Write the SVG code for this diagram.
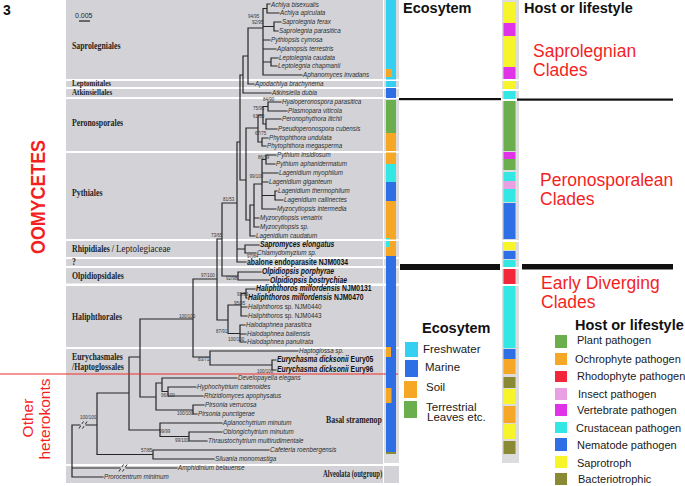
<svg xmlns="http://www.w3.org/2000/svg" width="685" height="486" viewBox="0 0 685 486">
<defs>
<style>
.t{font-family:"Liberation Sans",Arial,sans-serif;font-style:italic;font-size:7.8px;fill:#2b2b2b}
.tb{font-weight:bold;font-size:8.5px;fill:#111}
.up{font-style:normal}
.c{font-family:"Liberation Serif","Times New Roman",serif;font-weight:bold;font-size:9.8px;fill:#1e1e1e}
.cs{font-size:8.8px}
.bs{font-family:"Liberation Sans",Arial,sans-serif;font-size:4.5px;fill:#333}
.br{stroke:#262626;stroke-width:1.2;fill:none;stroke-linecap:square}
.red{font-family:"Liberation Sans",Arial,sans-serif;fill:#f41f1f}
.hd{font-family:"Liberation Sans",Arial,sans-serif;font-weight:bold;font-size:14.5px;fill:#111}
.lg{font-family:"Liberation Sans",Arial,sans-serif;font-size:11.5px;fill:#1a1a1a}
.lh{font-family:"Liberation Sans",Arial,sans-serif;font-size:11px;fill:#1a1a1a}
.sep{fill:#ffffff}
.fw{fill:#35cff2}.ma{fill:#2f6fe6}.so{fill:#f6a725}.te{fill:#6aae4e}
.aq{fill:#33e8e4}.pk{fill:#e8a0e2}.mg{fill:#e032e6}.rd{fill:#f2283a}.ye{fill:#f5f52a}.ol{fill:#8a8a34}
</style>
</defs>
<rect width="685" height="486" fill="#ffffff"/>
<text x="3" y="15" font-family="Liberation Sans,Arial,sans-serif" font-weight="bold" font-size="14" fill="#111">3</text>
<g id="panel">
<rect x="66" y="0" width="317" height="483" fill="#d3d3d7"/>
<rect x="384" y="0" width="15" height="463" fill="#dcdcdf"/>
<rect x="502" y="0" width="17" height="463" fill="#dcdcdf"/>
<g id="separators">
<rect class="sep" x="66" y="79" width="333" height="2"/>
<rect class="sep" x="66" y="87" width="333" height="2"/>
<rect class="sep" x="66" y="97" width="333" height="2"/>
<rect class="sep" x="66" y="151" width="333" height="2"/>
<rect class="sep" x="66" y="239" width="333" height="2"/>
<rect class="sep" x="66" y="257" width="333" height="2"/>
<rect class="sep" x="66" y="266" width="333" height="2"/>
<rect class="sep" x="66" y="283.5" width="333" height="2.5"/>
<rect class="sep" x="66" y="347" width="333" height="2"/>
<rect class="sep" x="66" y="464" width="333" height="2"/>
<rect x="384" y="466" width="15" height="17" fill="#d3d3d7"/>
</g>
</g>
<g id="scalebar">
<text x="75" y="18" font-family="Liberation Sans,Arial,sans-serif" font-size="7" fill="#222">0.005</text>
<line x1="79" y1="21" x2="90" y2="21" stroke="#222" stroke-width="1.2"/>
</g>
<g id="connectors">
<path class="br" d="M267 4V13M267 4H270M267 13H279
M274 22V31M274 22H281M274 31H278
M263 8.5V75M263 8.5H267M263 26.5H274M263 40H270M263 49H276M263 62H271M263 75H302
M271 58V66M271 58H278M271 66H277
M248 28V84M248 28H263M248 84H254
M243 56V93M243 56H248M243 93H271
M240 75V180M240 75H243M240 180H246
M268 102V111M268 102H281M268 111H287
M266 119V129M266 119H281M266 129H277
M263 106.5V124M263 106.5H268M263 124H266
M262 138V146M262 138H268M262 146H266
M258 115V142M258 115H263M258 142H262
M246 128V220M246 128H258M246 220H250
M266 155V164M266 155H276M266 164H275
M275 191V200M275 191H277M275 200H283
M262 159.5V209M262 159.5H266M262 173H278M262 182H268M262 195.5H275M262 209H276
M254 184V227M254 184H262M254 218H259M254 227H259
M250 205V236M250 205H254M250 236H255
M245 245V253M245 245H259M245 253H256
M237 142V262M237 142H240M237 249H245M237 262H246
M238 272V280M238 272H261M238 280H269
M222 203V276M222 203H237M222 276H238
M217 239V320M217 239H222M217 320H228
M246 289V298M246 289H255M246 298H247
M241 293.5V316M241 293.5H246M241 307H247M241 316H247
M240 325V342M240 325H245M240 334H246M240 342H246
M228 305V333.5M228 305H241M228 333.5H240
M193 279V357M193 279H217M193 357H210
M210 351V365M210 351H298M210 365H272
M272 360V370M272 360H276M272 370H276
M140 319V397M140 319H193M140 397H156
M156 383V410M156 383H162M156 410H193
M162 378V391.5M162 378H237M162 391.5H168
M168 387V396M168 387H196M168 396H203
M193 405V414M193 405H204M193 414H197
M189 432V441M189 432H222M189 441H207
M160 423V436.5M160 423H222M160 436.5H189
M129 357V430M129 357H140M129 430H160
M153 450V459M153 450H269M153 459H214
M97 393V454.5M97 393H129M97 454.5H153
M72 425V477M72 425H97M72 468H177M72 477H103"/>
<path d="M79 428.5L83.5 421.5M82.5 428.5L87 421.5M119 471.5L123.5 464.5M122.5 471.5L127 464.5" stroke="#262626" stroke-width="1" fill="none"/>
<rect x="80.5" y="423.8" width="5" height="2.4" fill="#d3d3d7"/>
<rect x="120.5" y="466.8" width="5" height="2.4" fill="#d3d3d7"/>
</g>
<g id="bootstrap">
<text class="bs" x="248" y="18">94/95</text>
<text class="bs" x="252" y="24">92/95</text>
<text class="bs" x="263" y="100.5">84/90</text>
<text class="bs" x="253" y="110">75/95</text>
<text class="bs" x="253" y="118">61/60</text>
<text class="bs" x="255" y="135">67/75</text>
<text class="bs" x="258" y="159">86/99</text>
<text class="bs" x="249.5" y="178">99/100</text>
<text class="bs" x="223" y="201">81/53</text>
<text class="bs" x="211" y="237">73/65</text>
<text class="bs" x="247" y="258">97/84</text>
<text class="bs" x="201" y="277">97/100</text>
<text class="bs" x="226" y="280">92/98</text>
<text class="bs" x="237" y="296">93/99</text>
<text class="bs" x="234" y="305">95/95</text>
<text class="bs" x="216" y="333">87/91</text>
<text class="bs" x="228" y="341">100/100</text>
<text class="bs" x="179" y="317.5">100/100</text>
<text class="bs" x="198" y="361">83/71</text>
<text class="bs" x="257" y="373">100/100</text>
<text class="bs" x="161" y="397">96/100</text>
<text class="bs" x="177" y="415">100/100</text>
<text class="bs" x="159" y="433">99/99</text>
<text class="bs" x="175" y="442">99/100</text>
<text class="bs" x="141" y="452">57/85</text>
<text class="bs" x="80" y="419">100/100</text>
</g>
<g transform="scale(0.8 1)">
<g id="clade-saprolegniales">
<text class="c" x="90" y="49">Saprolegniales</text>
<text class="t" x="338.75" y="6.5">Achlya bisexualis</text>
<text class="t" x="350" y="15.5">Achlya apiculata</text>
<text class="t" x="352.5" y="24.5">Saprolegnia ferax</text>
<text class="t" x="348.75" y="33.5">Saprolegnia parasitica</text>
<text class="t" x="338.75" y="42.5">Pythiopsis cymosa</text>
<text class="t" x="346.25" y="51.5">Aplanopsis terrestris</text>
<text class="t" x="348.75" y="60.5">Leptolegnia caudata</text>
<text class="t" x="347.5" y="68.5">Leptolegnia chapmanii</text>
<text class="t" x="378.75" y="77.5">Aphanomyces invadans</text>
</g>
<g id="clade-leptomitales">
<text class="c cs" x="90" y="86">Leptomitales</text>
<text class="t" x="318.75" y="86.5">Apodachlya brachynema</text>
</g>
<g id="clade-atkinsiellales">
<text class="c cs" x="90" y="95.5">Atkinsiellales</text>
<text class="t" x="340" y="95.5">Atkinsiella dubia</text>
</g>
<g id="clade-peronosporales">
<text class="c" x="90" y="126">Peronosporales</text>
<text class="t" x="352.5" y="104.5">Hyaloperonospora parasitica</text>
<text class="t" x="360" y="113.5">Plasmopara viticola</text>
<text class="t" x="352.5" y="121.5">Peronophythora litchii</text>
<text class="t" x="347.5" y="131.5">Pseudoperonospora cubensis</text>
<text class="t" x="336.25" y="140.5">Phytophthora undulata</text>
<text class="t" x="333.75" y="148.5">Phytophthora megasperma</text>
</g>
<g id="clade-pythiales">
<text class="c" x="90" y="196">Pythiales</text>
<text class="t" x="346.25" y="157.5">Pythium insidiosum</text>
<text class="t" x="345" y="166.5">Pythium aphanidermatum</text>
<text class="t" x="348.75" y="175.5">Lagenidium myophilum</text>
<text class="t" x="336.25" y="184.5">Lagenidium giganteum</text>
<text class="t" x="347.5" y="193.5">Lagenidium thermophilum</text>
<text class="t" x="355" y="202.5">Lagenidium callinectes</text>
<text class="t" x="346.25" y="211.5">Myzocytiopsis intermedia</text>
<text class="t" x="325" y="220.5">Myzocytiopsis venatrix</text>
<text class="t" x="325" y="229.5">Myzocytiopsis sp.</text>
<text class="t" x="320" y="238.5">Lagenidium caudatum</text>
</g>
<g id="clade-rhipidiales">
<text class="c" x="90" y="252">Rhipidiales / <tspan font-weight="normal" font-size="11.3">Leptolegiaceae</tspan></text>
<text class="t tb" x="325" y="247.5">Sapromyces elongatus</text>
<text class="t" x="321.25" y="255.5">Chlamydomyzium sp.</text>
</g>
<g id="clade-unknown">
<text class="c" x="90" y="265.5">?</text>
<text class="t tb up" x="308.75" y="265.5">abalone endoparasite NJM0034</text>
</g>
<g id="clade-olpidiopsidales">
<text class="c" x="90" y="279">Olpidiopsidales</text>
<text class="t tb" x="327.5" y="274.5">Olpidiopsis porphyrae</text>
<text class="t tb" x="337.5" y="283">Olpidiopsis bostrychiae</text>
</g>
<g id="clade-haliphthorales">
<text class="c" x="90" y="320">Haliphthorales</text>
<text class="t tb" x="320" y="291.5">Haliphthoros milfordensis <tspan class="up">NJM0131</tspan></text>
<text class="t tb" x="310" y="300.5">Haliphthoros milfordensis <tspan class="up">NJM0470</tspan></text>
<text class="t" x="310" y="309.5">Haliphthoros<tspan class="up"> sp. NJM0440</tspan></text>
<text class="t" x="310" y="318.5">Haliphthoros<tspan class="up"> sp. NJM0443</tspan></text>
<text class="t" x="307.5" y="327.5">Halodaphnea parasitica</text>
<text class="t" x="308.75" y="336.5">Halodaphnea baliensis</text>
<text class="t" x="308.75" y="344.5">Halodaphnea panulirata</text>
</g>
<g id="clade-eurychasmales">
<text class="c" x="90" y="360">Eurychasmales</text>
<text class="c" x="90" y="370">/Haptoglossales</text>
<text class="t" x="373.75" y="353.5">Haptoglossa sp.</text>
<text class="t tb" x="346.25" y="362.5">Eurychasma dicksonii <tspan class="up">Eury05</tspan></text>
<text class="t tb" x="346.25" y="372.5">Eurychasma dicksonii <tspan class="up">Eury96</tspan></text>
</g>
<g id="clade-basal-stramenopiles">
<text class="c" x="407.5" y="423">Basal stramenop</text>
<text class="t" x="297.5" y="380.5">Developayella elegans</text>
<text class="t" x="246.25" y="389.5">Hyphochytrium catenoides</text>
<text class="t" x="255" y="398.5">Rhizidiomyces apophysatus</text>
<text class="t" x="256.25" y="407.5">Pirsonia verrucosa</text>
<text class="t" x="247.5" y="416.5">Pirsonia punctigerae</text>
<text class="t" x="278.75" y="425.5">Aplanochytrium minutum</text>
<text class="t" x="278.75" y="434.5">Oblongichytrium minutum</text>
<text class="t" x="260" y="443.5">Thraustochytrium multirudimentale</text>
<text class="t" x="337.5" y="452.5">Cafeteria roenbergensis</text>
<text class="t" x="268.75" y="461.5">Siluania monomastiga</text>
</g>
<g id="clade-alveolata">
<text class="c" x="403.75" y="477" textLength="74" lengthAdjust="spacingAndGlyphs">Alveolata (outgroup)</text>
<text class="t" x="222.5" y="470.5">Amphidinium belauense</text>
<text class="t" x="130" y="479.5">Prorocentrum minimum</text>
</g>
</g>
<g id="group-labels">
<text class="red" transform="translate(45 197) rotate(-90)" text-anchor="middle" font-size="21" font-weight="bold" textLength="114" lengthAdjust="spacingAndGlyphs">OOMYCETES</text>
<text class="red" transform="translate(33 418) rotate(-90)" text-anchor="middle" font-size="15.5">Other</text>
<text class="red" transform="translate(50 419) rotate(-90)" text-anchor="middle" font-size="15.5">heterokonts</text>
<line x1="0" y1="374" x2="398" y2="374" stroke="#ee2a2a" stroke-width="1"/>
</g>
<g id="ecosystem-bar">
<rect class="fw" x="386" y="0" width="10" height="87"/>
<rect class="so" x="386" y="69" width="6" height="8"/>
<rect class="ma" x="386" y="88" width="10" height="10"/>
<rect class="te" x="386" y="100" width="10" height="33"/>
<rect class="so" x="386" y="133" width="10" height="31"/>
<rect class="aq" x="386" y="164" width="10" height="18"/>
<rect class="ma" x="386" y="182" width="10" height="19"/>
<rect class="so" x="386" y="201" width="10" height="55"/>
<rect class="aq" x="386" y="238" width="4" height="9"/>
<rect class="ma" x="386" y="256" width="10" height="196"/>
<rect class="so" x="386" y="347" width="5" height="10"/>
<rect class="so" x="386" y="388" width="5.5" height="15"/>
<rect class="ol" x="386" y="452" width="10" height="2"/>
<rect class="sep" x="384" y="79.5" width="15" height="1.5"/>
<rect class="sep" x="384" y="151" width="15" height="1.5"/>
<rect class="sep" x="384" y="239.5" width="15" height="1.5"/>
</g>
<g id="host-bar">
<rect class="ye" x="503.5" y="2" width="12" height="21"/>
<rect class="mg" x="503.5" y="23" width="12" height="13"/>
<rect class="ye" x="503.5" y="36" width="12" height="31"/>
<rect class="mg" x="503.5" y="67" width="12" height="12"/>
<rect class="ye" x="503.5" y="81" width="12" height="8"/>
<rect class="aq" x="503.5" y="91" width="12" height="8"/>
<rect class="te" x="503.5" y="101" width="12" height="50"/>
<rect class="mg" x="503.5" y="152" width="12" height="7"/>
<rect class="te" x="503.5" y="159" width="12" height="11"/>
<rect class="aq" x="503.5" y="172" width="12" height="9"/>
<rect class="pk" x="503.5" y="181" width="12" height="8"/>
<rect class="aq" x="503.5" y="189" width="12" height="13"/>
<rect class="ma" x="503.5" y="203" width="12" height="36"/>
<rect class="ye" x="503.5" y="242" width="12" height="8"/>
<rect class="ma" x="503.5" y="251" width="12" height="8"/>
<rect class="aq" x="503.5" y="260" width="12" height="7"/>
<rect class="rd" x="503.5" y="269" width="12" height="15"/>
<rect class="aq" x="503.5" y="286" width="12" height="62"/>
<rect class="ma" x="503.5" y="349" width="12" height="10"/>
<rect class="so" x="503.5" y="359" width="12" height="15"/>
<rect class="ol" x="503.5" y="377" width="12" height="11"/>
<rect class="ye" x="503.5" y="389" width="12" height="15"/>
<rect class="so" x="503.5" y="406" width="12" height="17"/>
<rect class="ye" x="503.5" y="424" width="12" height="15"/>
<rect class="ol" x="503.5" y="441" width="12" height="13"/>
<rect class="sep" x="502" y="79" width="17" height="2"/>
<rect class="sep" x="502" y="89" width="17" height="2"/>
<rect class="sep" x="502" y="99" width="17" height="2"/>
<rect class="sep" x="502" y="240" width="17" height="2"/>
<rect class="sep" x="502" y="267" width="17" height="2"/>
<rect class="sep" x="502" y="284" width="17" height="2"/>
</g>
<g id="headers">
<text class="hd" x="403" y="13.3">Ecosytem</text>
<text class="hd" x="524" y="13">Host or lifestyle</text>
<rect x="399" y="98" width="102" height="2.2" fill="#111"/>
<rect x="517" y="98.5" width="156" height="2.2" fill="#111"/>
<rect x="400" y="264" width="100" height="6" fill="#111"/>
<rect x="522" y="264" width="151" height="5.5" fill="#111"/>
</g>
<g id="clade-titles">
<text class="red" x="533" y="57" font-size="17.5">Saprolegnian</text>
<text class="red" x="533" y="76" font-size="17.5">Clades</text>
<text class="red" x="540" y="186" font-size="17.5">Peronosporalean</text>
<text class="red" x="540" y="205" font-size="17.5">Clades</text>
<text class="red" x="541" y="289" font-size="17.5">Early Diverging</text>
<text class="red" x="541" y="308" font-size="17.5">Clades</text>
</g>
<g id="legend-ecosystem">
<text class="hd" x="422" y="333">Ecosytem</text>
<rect class="fw" x="405" y="342" width="13" height="15"/>
<text class="lg" x="423" y="353">Freshwater</text>
<rect class="ma" x="405" y="360" width="13" height="17"/>
<text class="lg" x="425" y="371">Marine</text>
<rect class="so" x="404" y="381" width="13" height="17"/>
<text class="lg" x="426" y="391">Soil</text>
<rect class="te" x="404" y="401" width="13" height="17"/>
<text class="lg" x="426" y="410.5">Terrestrial</text>
<text class="lg" x="427" y="421">Leaves etc.</text>
</g>
<g id="legend-host">
<text class="hd" x="575" y="330">Host or lifestyle</text>
<rect class="te" x="555" y="335" width="12" height="13"/>
<text class="lh" x="577" y="344">Plant pathogen</text>
<rect class="so" x="555" y="353" width="12" height="12"/>
<text class="lh" x="575" y="363">Ochrophyte pathogen</text>
<rect class="rd" x="555" y="371" width="12" height="11"/>
<text class="lh" x="577" y="380">Rhodophyte pathogen</text>
<rect class="pk" x="555" y="388" width="12" height="12"/>
<text class="lh" x="578" y="398">Insect pathogen</text>
<rect class="mg" x="555" y="404" width="12" height="12"/>
<text class="lh" x="577" y="414">Vertebrate pathogen</text>
<rect class="aq" x="555" y="422" width="12" height="11"/>
<text class="lh" x="576" y="432">Crustacean pathogen</text>
<rect class="ma" x="555" y="438" width="12" height="13"/>
<text class="lh" x="577" y="449">Nematode pathogen</text>
<rect class="ye" x="555" y="456" width="12" height="12"/>
<text class="lh" x="577" y="467">Saprotroph</text>
<rect class="ol" x="555" y="473" width="12" height="12"/>
<text class="lh" x="578" y="483">Bacteriotrophic</text>
</g>
</svg>
